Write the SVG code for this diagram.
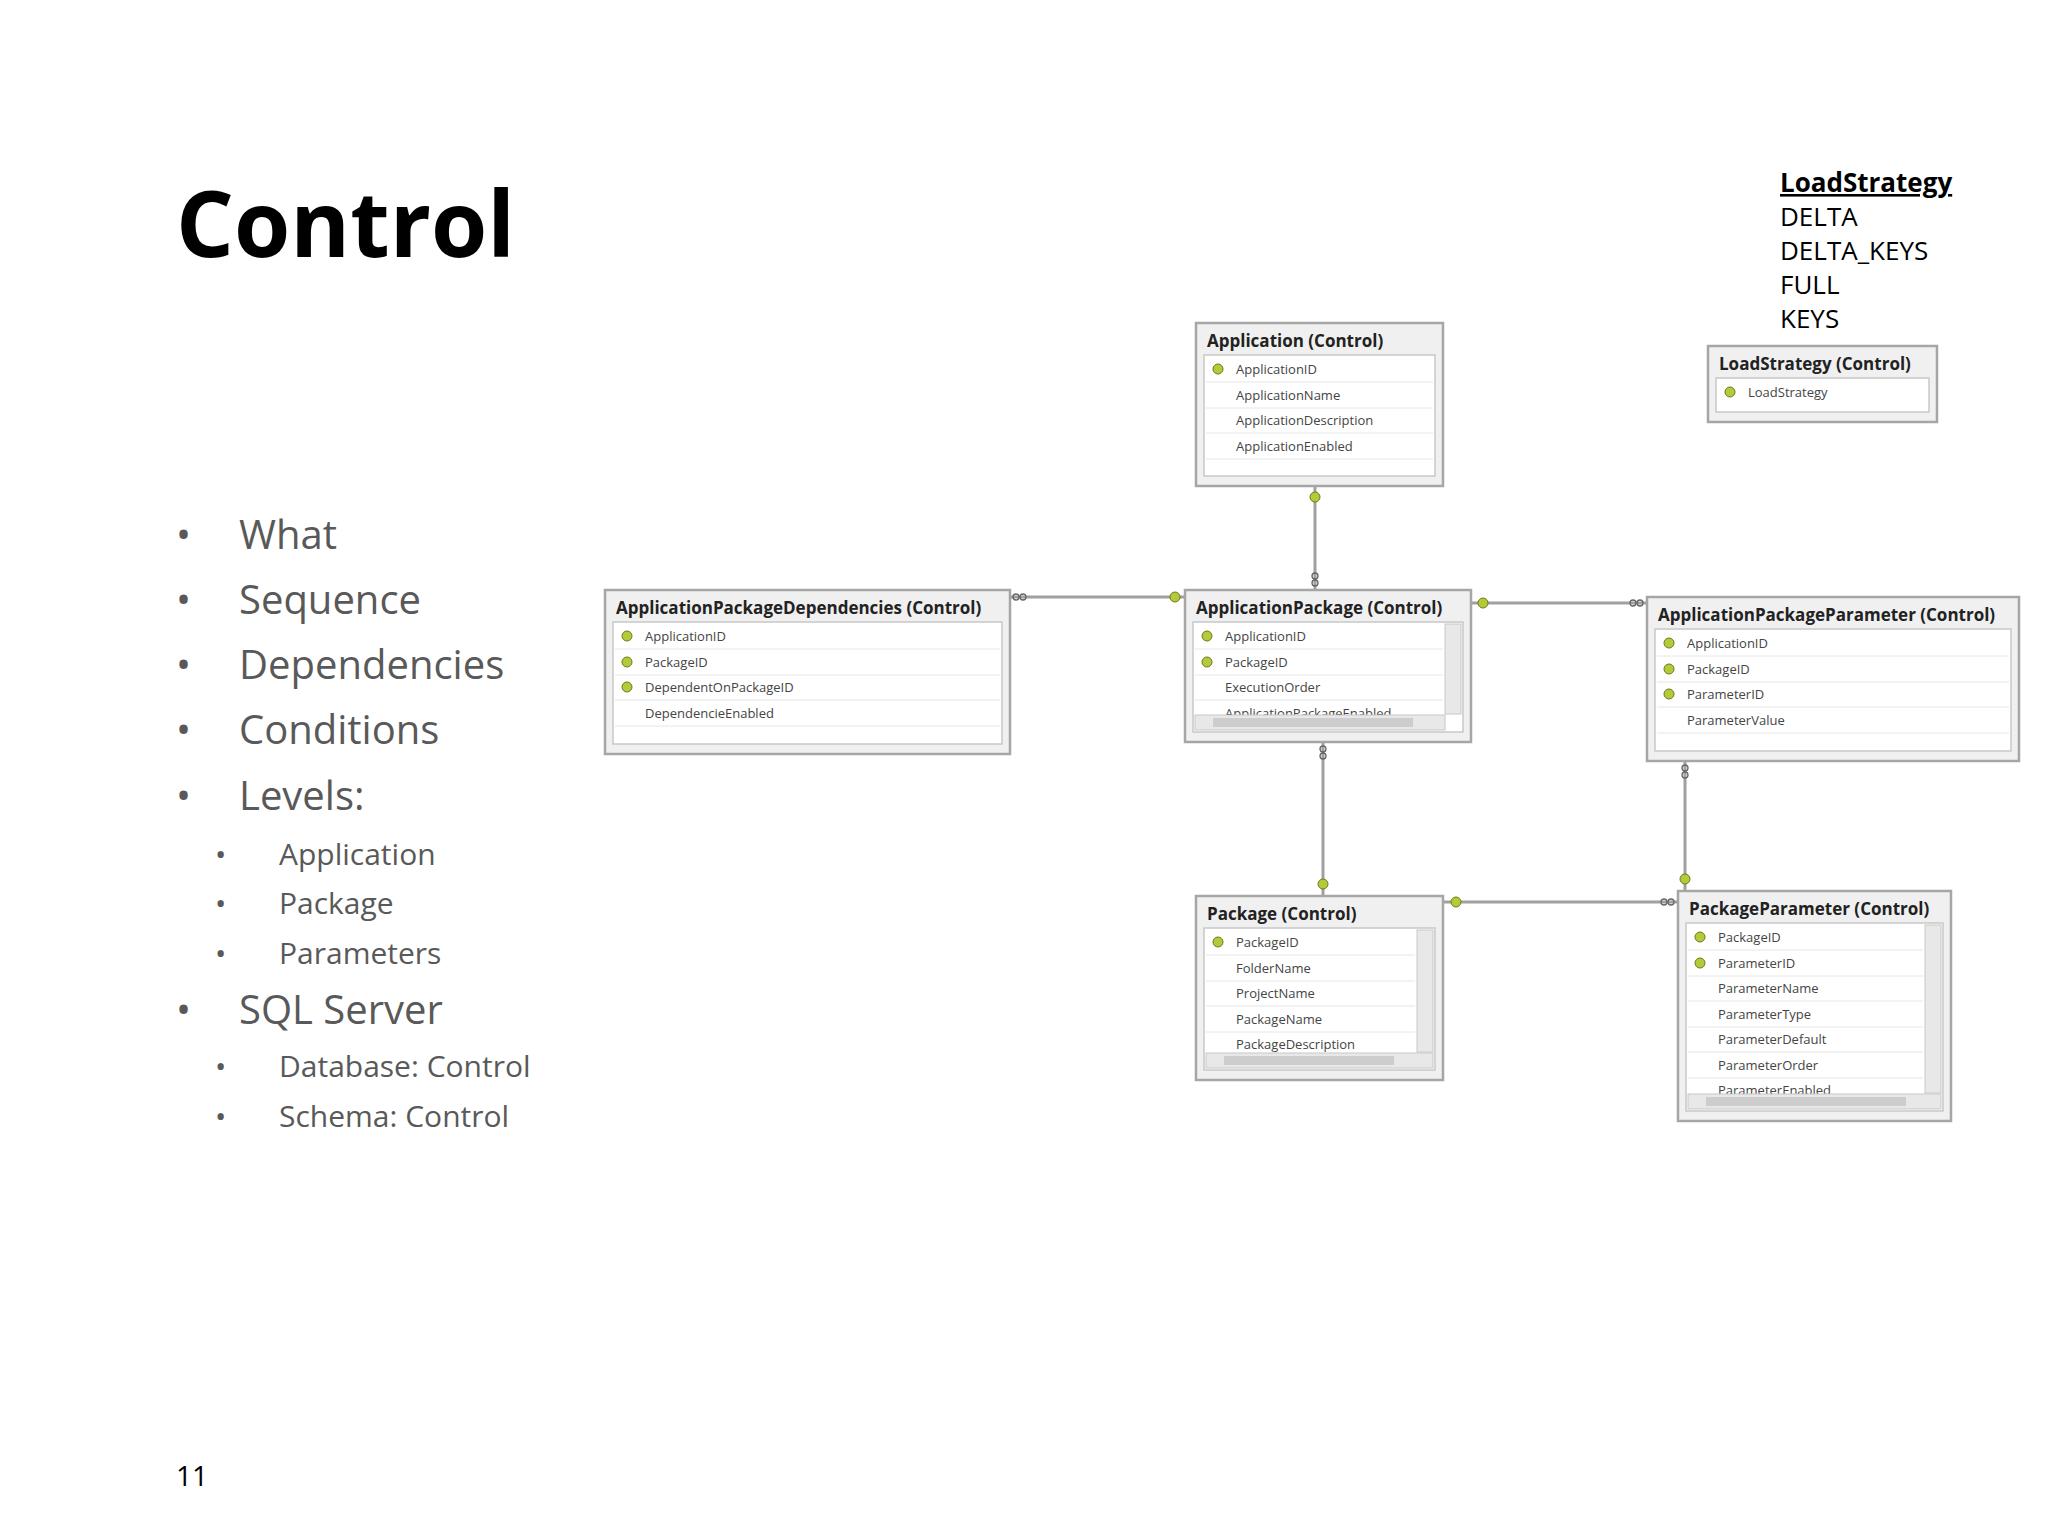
<svg xmlns="http://www.w3.org/2000/svg" width="2048" height="1536" viewBox="0 0 2048 1536">
<style>
.t{font-family:"Open Sans","Liberation Sans",sans-serif}
.b{fill:#595959;font-size:40px}
.s{fill:#595959;font-size:30px}
.box{fill:#f0f0f0;stroke:#a6a6a6;stroke-width:2.5}
.in{fill:#fff;stroke:#c8c8c8;stroke-width:1.5}
.h{font-family:"Segoe UI","Open Sans","Liberation Sans",sans-serif;font-size:17px;font-weight:bold;fill:#222}
.f{font-family:"Segoe UI","Open Sans","Liberation Sans",sans-serif;font-size:13px;fill:#444}
.rl{stroke:#e6e6e6;stroke-width:1}
.k{fill:#b5c93a;stroke:#6d7a1a;stroke-width:1}
.sb{fill:#e8e8e8;stroke:#c8c8c8;stroke-width:1}
.c{stroke:#a0a0a0;stroke-width:3;fill:none}
.inf{fill:none;stroke:#666;stroke-width:1.3}
</style>
<text class="t" x="176" y="257" font-size="91" font-weight="bold" fill="#000">Control</text>
<g class="t" font-size="26" fill="#000">
<text x="1780" y="192" font-weight="bold" text-decoration="underline">LoadStrategy</text>
<text x="1780" y="226">DELTA</text>
<text x="1780" y="260">DELTA_KEYS</text>
<text x="1780" y="294">FULL</text>
<text x="1780" y="328">KEYS</text>
</g>
<g class="t">
<g class="b">
<text x="176" y="549">•</text><text x="239" y="549">What</text>
<text x="176" y="614">•</text><text x="239" y="614">Sequence</text>
<text x="176" y="679">•</text><text x="239" y="679">Dependencies</text>
<text x="176" y="744">•</text><text x="239" y="744">Conditions</text>
<text x="176" y="810">•</text><text x="239" y="810">Levels:</text>
<text x="176" y="1024">•</text><text x="239" y="1024">SQL Server</text>
</g>
<g class="s">
<text x="215" y="865">•</text><text x="279" y="865">Application</text>
<text x="215" y="914">•</text><text x="279" y="914">Package</text>
<text x="215" y="964">•</text><text x="279" y="964">Parameters</text>
<text x="215" y="1077">•</text><text x="279" y="1077">Database: Control</text>
<text x="215" y="1127">•</text><text x="279" y="1127">Schema: Control</text>
</g>
<text x="176" y="1486" font-size="28" fill="#000">11</text>
</g>

<g id="connectors">
<line class="c" x1="1315" y1="486" x2="1315" y2="590"/>
<line class="c" x1="1010" y1="597" x2="1185" y2="597"/>
<line class="c" x1="1471" y1="603" x2="1647" y2="603"/>
<line class="c" x1="1323" y1="742" x2="1323" y2="896"/>
<line class="c" x1="1685" y1="761" x2="1685" y2="891"/>
<line class="c" x1="1443" y1="902" x2="1678" y2="902"/>
<circle class="k" cx="1315" cy="497" r="5"/>
<circle class="inf" cx="1315" cy="576" r="3"/><circle class="inf" cx="1315" cy="583" r="3"/>
<circle class="inf" cx="1016" cy="597" r="3"/><circle class="inf" cx="1023" cy="597" r="3"/>
<circle class="k" cx="1175" cy="597" r="5"/>
<circle class="k" cx="1483" cy="603" r="5"/>
<circle class="inf" cx="1633" cy="603" r="3"/><circle class="inf" cx="1640" cy="603" r="3"/>
<circle class="inf" cx="1323" cy="749" r="3"/><circle class="inf" cx="1323" cy="756" r="3"/>
<circle class="k" cx="1323" cy="884" r="5"/>
<circle class="inf" cx="1685" cy="768" r="3"/><circle class="inf" cx="1685" cy="775" r="3"/>
<circle class="k" cx="1685" cy="879" r="5"/>
<circle class="k" cx="1456" cy="902" r="5"/>
<circle class="inf" cx="1664" cy="902" r="3"/><circle class="inf" cx="1671" cy="902" r="3"/>
</g>

<g id="application" transform="translate(1196,323)">
<rect class="box" width="247" height="163"/><text class="h" x="11" y="24">Application (Control)</text>
<rect class="in" x="8" y="32" width="231" height="121"/>
<line class="rl" x1="10" y1="59" x2="237" y2="59"/><line class="rl" x1="10" y1="85" x2="237" y2="85"/><line class="rl" x1="10" y1="110" x2="237" y2="110"/><line class="rl" x1="10" y1="136" x2="237" y2="136"/>
<circle class="k" cx="22" cy="46" r="5"/>
<text class="f" x="40" y="51">ApplicationID</text><text class="f" x="40" y="77">ApplicationName</text><text class="f" x="40" y="102">ApplicationDescription</text><text class="f" x="40" y="128">ApplicationEnabled</text>
</g>

<g id="loadstrategy" transform="translate(1708,346)">
<rect class="box" width="229" height="76"/><text class="h" x="11" y="24">LoadStrategy (Control)</text>
<rect class="in" x="8" y="32" width="213" height="34"/>
<circle class="k" cx="22" cy="46" r="5"/><text class="f" x="40" y="51">LoadStrategy</text>
</g>

<g id="apd" transform="translate(605,590)">
<rect class="box" width="405" height="164"/><text class="h" x="11" y="24">ApplicationPackageDependencies (Control)</text>
<rect class="in" x="8" y="32" width="389" height="122"/>
<line class="rl" x1="10" y1="59" x2="395" y2="59"/><line class="rl" x1="10" y1="85" x2="395" y2="85"/><line class="rl" x1="10" y1="110" x2="395" y2="110"/><line class="rl" x1="10" y1="136" x2="395" y2="136"/>
<circle class="k" cx="22" cy="46" r="5"/><circle class="k" cx="22" cy="72" r="5"/><circle class="k" cx="22" cy="97" r="5"/>
<text class="f" x="40" y="51">ApplicationID</text><text class="f" x="40" y="77">PackageID</text><text class="f" x="40" y="102">DependentOnPackageID</text><text class="f" x="40" y="128">DependencieEnabled</text>
</g>

<g id="ap" transform="translate(1185,590)">
<rect class="box" width="286" height="152"/><text class="h" x="11" y="24">ApplicationPackage (Control)</text>
<rect class="in" x="8" y="32" width="270" height="110"/>
<line class="rl" x1="10" y1="59" x2="258" y2="59"/><line class="rl" x1="10" y1="85" x2="258" y2="85"/><line class="rl" x1="10" y1="110" x2="258" y2="110"/>
<circle class="k" cx="22" cy="46" r="5"/><circle class="k" cx="22" cy="72" r="5"/>
<text class="f" x="40" y="51">ApplicationID</text><text class="f" x="40" y="77">PackageID</text><text class="f" x="40" y="102">ExecutionOrder</text>
<svg x="10" y="110" width="248" height="15"><text class="f" x="30" y="18">ApplicationPackageEnabled</text></svg>
<rect class="sb" x="260" y="34" width="16" height="90"/><rect class="sb" x="10" y="125" width="250" height="15"/><rect x="28" y="128" width="200" height="9" fill="#cdcdcd"/>
</g>

<g id="app" transform="translate(1647,597)">
<rect class="box" width="372" height="164"/><text class="h" x="11" y="24">ApplicationPackageParameter (Control)</text>
<rect class="in" x="8" y="32" width="356" height="122"/>
<line class="rl" x1="10" y1="59" x2="362" y2="59"/><line class="rl" x1="10" y1="85" x2="362" y2="85"/><line class="rl" x1="10" y1="110" x2="362" y2="110"/><line class="rl" x1="10" y1="136" x2="362" y2="136"/>
<circle class="k" cx="22" cy="46" r="5"/><circle class="k" cx="22" cy="72" r="5"/><circle class="k" cx="22" cy="97" r="5"/>
<text class="f" x="40" y="51">ApplicationID</text><text class="f" x="40" y="77">PackageID</text><text class="f" x="40" y="102">ParameterID</text><text class="f" x="40" y="128">ParameterValue</text>
</g>

<g id="package" transform="translate(1196,896)">
<rect class="box" width="247" height="184"/><text class="h" x="11" y="24">Package (Control)</text>
<rect class="in" x="8" y="32" width="231" height="142"/>
<line class="rl" x1="10" y1="59" x2="219" y2="59"/><line class="rl" x1="10" y1="85" x2="219" y2="85"/><line class="rl" x1="10" y1="110" x2="219" y2="110"/><line class="rl" x1="10" y1="136" x2="219" y2="136"/>
<circle class="k" cx="22" cy="46" r="5"/>
<text class="f" x="40" y="51">PackageID</text><text class="f" x="40" y="77">FolderName</text><text class="f" x="40" y="102">ProjectName</text><text class="f" x="40" y="128">PackageName</text><text class="f" x="40" y="153">PackageDescription</text>
<rect class="sb" x="221" y="34" width="16" height="122"/><rect class="sb" x="10" y="157" width="227" height="15"/><rect x="28" y="160" width="170" height="9" fill="#cdcdcd"/>
</g>

<g id="pp" transform="translate(1678,891)">
<rect class="box" width="273" height="230"/><text class="h" x="11" y="24">PackageParameter (Control)</text>
<rect class="in" x="8" y="32" width="257" height="188"/>
<line class="rl" x1="10" y1="59" x2="245" y2="59"/><line class="rl" x1="10" y1="85" x2="245" y2="85"/><line class="rl" x1="10" y1="110" x2="245" y2="110"/><line class="rl" x1="10" y1="136" x2="245" y2="136"/><line class="rl" x1="10" y1="161" x2="245" y2="161"/><line class="rl" x1="10" y1="187" x2="245" y2="187"/>
<circle class="k" cx="22" cy="46" r="5"/><circle class="k" cx="22" cy="72" r="5"/>
<text class="f" x="40" y="51">PackageID</text><text class="f" x="40" y="77">ParameterID</text><text class="f" x="40" y="102">ParameterName</text><text class="f" x="40" y="128">ParameterType</text><text class="f" x="40" y="153">ParameterDefault</text><text class="f" x="40" y="179">ParameterOrder</text><text class="f" x="40" y="204">ParameterEnabled</text>
<rect class="sb" x="247" y="34" width="16" height="168"/><rect class="sb" x="10" y="203" width="253" height="15"/><rect x="28" y="206" width="200" height="9" fill="#cdcdcd"/>
</g>
</svg>
